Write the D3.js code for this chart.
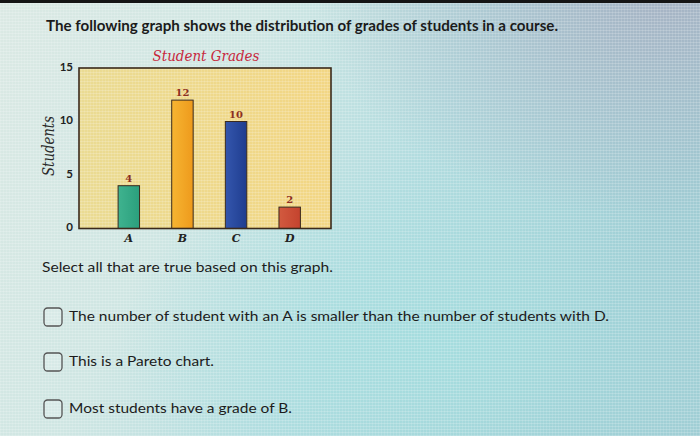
<!DOCTYPE html>
<html>
<head>
<meta charset="utf-8">
<script src="https://cdn.jsdelivr.net/npm/d3@7/dist/d3.min.js"></script>
<style>
  html, body { margin: 0; padding: 0; width: 700px; height: 436px; overflow: hidden; }
  svg { display: block; }
</style>
</head>
<body>
<svg id="chart" width="700" height="436"></svg>
<script>
// ---- data ----
const categories = ["A", "B", "C", "D"];
const students = [4, 12, 10, 2];
const yTicks = [0, 5, 10, 15];
const barColors = ["#2b9f7d", "#ee9a1c", "#1f3d8f", "#c4432e"];
const barLight = ["#3fb38f", "#f6b532", "#3456ad", "#d25a3f"];
const pageTitle = "The following graph shows the distribution of grades of students in a course.";
const chartTitle = "Student Grades";
const yLabel = "Students";
const prompt = "Select all that are true based on this graph.";
const options = [
  "The number of student with an A is smaller than the number of students with D.",
  "This is a Pareto chart.",
  "Most students have a grade of B."
];

const svg = d3.select("#chart");
const defs = svg.append("defs");

// background gradient (photo of a screen)
const bg = defs.append("linearGradient").attr("id", "bg")
  .attr("x1", "0").attr("y1", "0").attr("x2", "1").attr("y2", "0.3");
bg.append("stop").attr("offset", "0").attr("stop-color", "#dbe9e4");
bg.append("stop").attr("offset", "0.35").attr("stop-color", "#cfe6e3");
bg.append("stop").attr("offset", "0.65").attr("stop-color", "#b2dcdf");
bg.append("stop").attr("offset", "1").attr("stop-color", "#a0cdd4");

const tr = defs.append("radialGradient").attr("id", "tr")
  .attr("cx", "0.95").attr("cy", "0.0").attr("r", "0.5");
tr.append("stop").attr("offset", "0").attr("stop-color", "#a6b0c2").attr("stop-opacity", 0.9);
tr.append("stop").attr("offset", "1").attr("stop-color", "#a6b0c2").attr("stop-opacity", 0);

const mid = defs.append("radialGradient").attr("id", "mid")
  .attr("cx", "0.62").attr("cy", "0.8").attr("r", "0.45");
mid.append("stop").attr("offset", "0").attr("stop-color", "#a4dedf").attr("stop-opacity", 0.85);
mid.append("stop").attr("offset", "1").attr("stop-color", "#a4dedf").attr("stop-opacity", 0);

const pat = defs.append("pattern").attr("id", "grid")
  .attr("width", 3).attr("height", 3).attr("patternUnits", "userSpaceOnUse");
pat.append("rect").attr("width", 3).attr("height", 1).attr("fill", "#ffffff").attr("opacity", 0.18);
pat.append("rect").attr("width", 1).attr("height", 3).attr("fill", "#ffffff").attr("opacity", 0.12);

svg.append("rect").attr("width", 700).attr("height", 436).attr("fill", "url(#bg)");
svg.append("rect").attr("width", 700).attr("height", 436).attr("fill", "url(#mid)");
svg.append("rect").attr("width", 700).attr("height", 436).attr("fill", "url(#tr)");
svg.append("rect").attr("width", 700).attr("height", 436).attr("fill", "url(#grid)");
svg.append("rect").attr("width", 700).attr("height", 3).attr("fill", "#151515");

// page title
svg.append("text")
  .attr("x", 46).attr("y", 31)
  .attr("font-family", "Lato, 'Open Sans', sans-serif")
  .attr("font-weight", "bold").attr("font-size", 16)
  .attr("fill", "#1b1b1b")
  .attr("textLength", 512).attr("lengthAdjust", "spacingAndGlyphs")
  .text(pageTitle);

// ---- chart ----
const plot = { left: 79, right: 331, top: 68, bottom: 228.5 };
const x = d3.scaleBand().domain(categories).range([102, 316.5])
  .paddingInner(0.6).paddingOuter(0.3);
const y = d3.scaleLinear().domain([0, 15]).range([plot.bottom, plot.top]);

const pg = defs.append("linearGradient").attr("id", "plotbg")
  .attr("x1", "0").attr("y1", "0").attr("x2", "1").attr("y2", "0");
pg.append("stop").attr("offset", "0").attr("stop-color", "#eadb93");
pg.append("stop").attr("offset", "1").attr("stop-color", "#f2d684");

svg.append("rect")
  .attr("x", plot.left).attr("y", plot.top)
  .attr("width", plot.right - plot.left).attr("height", plot.bottom - plot.top)
  .attr("fill", "url(#plotbg)");
svg.append("rect")
  .attr("x", plot.left).attr("y", plot.top)
  .attr("width", plot.right - plot.left).attr("height", plot.bottom - plot.top)
  .attr("fill", "url(#grid)");

// bar gradients
categories.forEach((c, i) => {
  const g = defs.append("linearGradient").attr("id", "bar" + i)
    .attr("x1", "0").attr("y1", "0").attr("x2", "1").attr("y2", "0");
  g.append("stop").attr("offset", "0").attr("stop-color", barLight[i]);
  g.append("stop").attr("offset", "1").attr("stop-color", barColors[i]);
});

svg.append("g").selectAll("rect")
  .data(students)
  .join("rect")
  .attr("x", (d, i) => x(categories[i]))
  .attr("y", d => y(d))
  .attr("width", x.bandwidth())
  .attr("height", d => y(0) - y(d))
  .attr("fill", (d, i) => "url(#bar" + i + ")")
  .attr("stroke", "#3a2a1e").attr("stroke-width", 1);

// value labels
svg.append("g").selectAll("text")
  .data(students)
  .join("text")
  .attr("x", (d, i) => x(categories[i]) + x.bandwidth() / 2)
  .attr("y", d => y(d) - 4)
  .attr("text-anchor", "middle")
  .attr("font-family", "'DejaVu Serif', serif")
  .attr("font-weight", "bold").attr("font-size", 10)
  .attr("fill", "#8c2e22")
  .text(d => d);

// frame
svg.append("rect")
  .attr("x", plot.left).attr("y", plot.top)
  .attr("width", plot.right - plot.left).attr("height", plot.bottom - plot.top)
  .attr("fill", "none").attr("stroke", "#3b2a1c").attr("stroke-width", 1.6);

// y axis labels
const yAxis = d3.axisLeft(y).tickValues(yTicks).tickSize(0).tickPadding(6);
const ya = svg.append("g").attr("transform", `translate(${plot.left},0)`).call(yAxis);
ya.select(".domain").remove();
ya.selectAll("text")
  .attr("font-family", "Lato, sans-serif")
  .attr("font-weight", "bold").attr("font-size", 11.5)
  .attr("fill", "#222")
  .attr("dy", "0.2em");

// x axis labels
const xAxis = d3.axisBottom(x).tickSize(0).tickPadding(6);
const xa = svg.append("g").attr("transform", `translate(0,${plot.bottom})`).call(xAxis);
xa.select(".domain").remove();
xa.selectAll("text")
  .attr("font-family", "'DejaVu Serif', serif")
  .attr("font-style", "italic").attr("font-weight", "bold").attr("font-size", 11)
  .attr("fill", "#222");

// chart title
svg.append("text")
  .attr("x", 206).attr("y", 61)
  .attr("text-anchor", "middle")
  .attr("font-family", "'DejaVu Serif', serif")
  .attr("font-style", "italic").attr("font-size", 15)
  .attr("fill", "#c8283d")
  .attr("textLength", 107).attr("lengthAdjust", "spacingAndGlyphs")
  .text(chartTitle);

// y label
svg.append("text")
  .attr("transform", "translate(54,146) rotate(-90)")
  .attr("text-anchor", "middle")
  .attr("font-family", "'DejaVu Serif', serif")
  .attr("font-style", "italic").attr("font-size", 16)
  .attr("fill", "#2a2a2a")
  .attr("textLength", 60).attr("lengthAdjust", "spacingAndGlyphs")
  .text(yLabel);

// ---- question text ----
svg.append("text")
  .attr("x", 42).attr("y", 272)
  .attr("font-family", "Lato, sans-serif")
  .attr("font-size", 14).attr("fill", "#1c1c1c")
  .attr("textLength", 291).attr("lengthAdjust", "spacingAndGlyphs")
  .text(prompt);

const optY = [321, 366, 413];
const optEnd = [609, 214, 292];
const og = svg.append("g").selectAll("g")
  .data(options)
  .join("g");
og.append("rect")
  .attr("x", 44).attr("y", (d, i) => optY[i] - 13)
  .attr("width", 18).attr("height", 18).attr("rx", 3.5)
  .attr("fill", "rgba(255,255,255,0.15)")
  .attr("stroke", "#555").attr("stroke-width", 1.3);
og.append("text")
  .attr("x", 69).attr("y", (d, i) => optY[i])
  .attr("font-family", "Lato, sans-serif")
  .attr("font-size", 14).attr("fill", "#1c1c1c")
  .attr("textLength", (d, i) => optEnd[i] - 69).attr("lengthAdjust", "spacingAndGlyphs")
  .text(d => d);
</script>
</body>
</html>
